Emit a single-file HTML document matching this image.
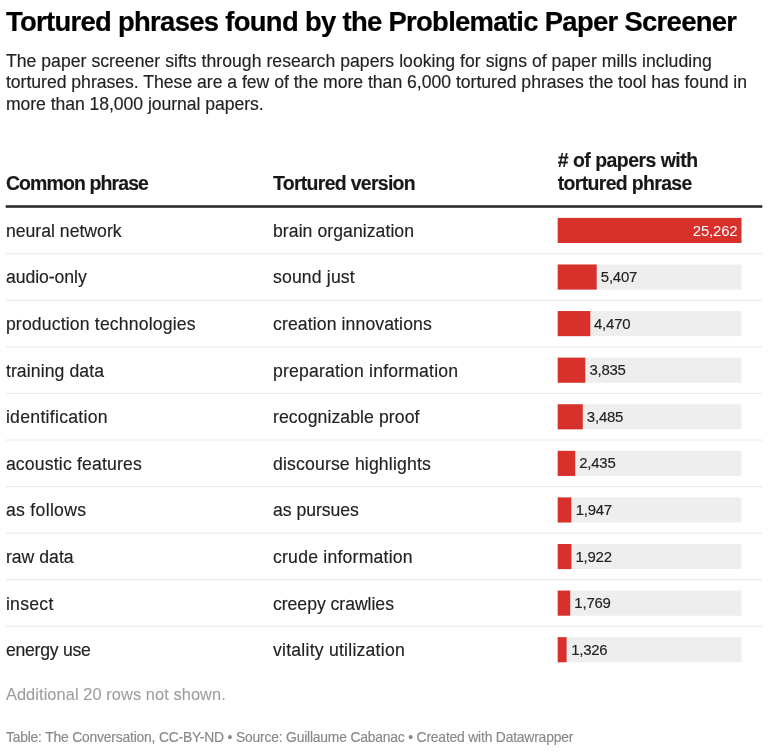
<!DOCTYPE html>
<html lang="en">
<head>
<meta charset="utf-8">
<meta name="viewport" content="width=768">
<title>Tortured phrases found by the Problematic Paper Screener</title>
<style>
html,body{margin:0;padding:0;background:#fff}
body{width:768px;height:752px;position:relative;overflow:hidden;font-family:"Liberation Sans", sans-serif;color:#222222}
#chart{position:absolute;left:0;top:0;width:768px;height:752px;overflow:hidden}
#gfx{position:absolute;left:0;top:0;width:768px;height:752px}
header,footer,table,thead,tbody,tr,p.desc,th.multi{display:block;position:static;margin:0;padding:0;border:0;width:auto;height:0}
.t{position:absolute;display:block;white-space:pre;margin:0;padding:0;border:0;font-weight:400;text-align:left}
.title{font-size:27.42px;line-height:31px;color:#000000;font-weight:700;-webkit-text-stroke:0.2px #000000;}
.desc{font-size:17.62px;line-height:20px;color:#222222;-webkit-text-stroke:0.15px #222222;}
.th{font-size:19.46px;line-height:22px;color:#181818;font-weight:700;-webkit-text-stroke:0.15px #181818;}
.cell{font-size:17.64px;line-height:20px;color:#222222;-webkit-text-stroke:0.15px #222222;}
.val{font-size:14.95px;line-height:17px;color:#222222;-webkit-text-stroke:0.15px #222222;}
.note{font-size:16.38px;line-height:18px;color:#9e9e9e;-webkit-text-stroke:0.1px #9e9e9e;}
.foot{font-size:13.87px;line-height:16px;color:#888888;-webkit-text-stroke:0.15px #888888;}
.in{color:#ffffff;-webkit-text-stroke:0}
</style>
</head>
<body>
<main id="chart">
<svg id="gfx" width="768" height="752" viewBox="0 0 768 752" aria-hidden="true">
<rect x="5.67" y="205.2" width="756.66" height="2.6" fill="#2a2a2a"/>
<g fill="#ececec">
<rect x="5.67" y="253.06" width="756.66" height="1.26"/>
<rect x="5.67" y="299.64" width="756.66" height="1.26"/>
<rect x="5.67" y="346.23" width="756.66" height="1.26"/>
<rect x="5.67" y="392.81" width="756.66" height="1.26"/>
<rect x="5.67" y="439.4" width="756.66" height="1.26"/>
<rect x="5.67" y="485.99" width="756.66" height="1.26"/>
<rect x="5.67" y="532.57" width="756.66" height="1.26"/>
<rect x="5.67" y="579.15" width="756.66" height="1.26"/>
<rect x="5.67" y="625.74" width="756.66" height="1.26"/>
</g>
<g fill="#eeeeee">
<rect x="557.7" y="217.9" width="183.8" height="25.1"/>
<rect x="557.7" y="264.49" width="183.8" height="25.1"/>
<rect x="557.7" y="311.07" width="183.8" height="25.1"/>
<rect x="557.7" y="357.65" width="183.8" height="25.1"/>
<rect x="557.7" y="404.24" width="183.8" height="25.1"/>
<rect x="557.7" y="450.83" width="183.8" height="25.1"/>
<rect x="557.7" y="497.41" width="183.8" height="25.1"/>
<rect x="557.7" y="544" width="183.8" height="25.1"/>
<rect x="557.7" y="590.58" width="183.8" height="25.1"/>
<rect x="557.7" y="637.16" width="183.8" height="25.1"/>
</g>
<g fill="#d8302b">
<rect x="557.7" y="217.9" width="183.8" height="25.1"/>
<rect x="557.7" y="264.49" width="39" height="25.1"/>
<rect x="557.7" y="311.07" width="32.6" height="25.1"/>
<rect x="557.7" y="357.65" width="27.6" height="25.1"/>
<rect x="557.7" y="404.24" width="25.1" height="25.1"/>
<rect x="557.7" y="450.83" width="17.5" height="25.1"/>
<rect x="557.7" y="497.41" width="13.6" height="25.1"/>
<rect x="557.7" y="544" width="13.7" height="25.1"/>
<rect x="557.7" y="590.58" width="12.5" height="25.1"/>
<rect x="557.7" y="637.16" width="8.9" height="25.1"/>
</g>
</svg>
<header>
<h1 class="t title" style="left:5.9px;top:6px;letter-spacing:-0.682px">Tortured phrases found by the Problematic Paper Screener</h1>
<p class="desc"><span class="t desc" style="left:5.9px;top:51px;letter-spacing:0.035px">The paper screener sifts through research papers looking for signs of paper mills including</span><span class="t desc" style="left:5.9px;top:72px;letter-spacing:-0.016px">tortured phrases. These are a few of the more than 6,000 tortured phrases the tool has found in</span><span class="t desc" style="left:5.9px;top:94px;letter-spacing:-0.055px">more than 18,000 journal papers.</span></p>
</header>
<table>
<thead>
<tr>
<th class="t th" style="left:5.9px;top:172px;letter-spacing:-0.864px">Common phrase</th>
<th class="t th" style="left:273px;top:172px;letter-spacing:-0.688px">Tortured version</th>
<th class="multi"><span class="t th" style="left:557.8px;top:149px;letter-spacing:-0.514px"># of papers with</span><span class="t th" style="left:557.8px;top:172px;letter-spacing:-0.656px">tortured phrase</span></th>
</tr>
</thead>
<tbody>
<tr><td class="t cell" style="left:5.9px;top:221px;letter-spacing:0.008px">neural network</td><td class="t cell" style="left:273px;top:221px;letter-spacing:0.054px">brain organization</td><td class="t val in" style="left:692.78px;top:222px;letter-spacing:-0.156px">25,262</td></tr>
<tr><td class="t cell" style="left:5.9px;top:267px;letter-spacing:-0.05px">audio-only</td><td class="t cell" style="left:273px;top:267px;letter-spacing:0.151px">sound just</td><td class="t val" style="left:600.84px;top:268px;letter-spacing:-0.215px">5,407</td></tr>
<tr><td class="t cell" style="left:5.9px;top:314px;letter-spacing:0.157px">production technologies</td><td class="t cell" style="left:273px;top:314px;letter-spacing:0.105px">creation innovations</td><td class="t val" style="left:594.02px;top:315px;letter-spacing:-0.215px">4,470</td></tr>
<tr><td class="t cell" style="left:5.9px;top:361px;letter-spacing:0.096px">training data</td><td class="t cell" style="left:273px;top:361px;letter-spacing:0.17px">preparation information</td><td class="t val" style="left:589.4px;top:361px;letter-spacing:-0.215px">3,835</td></tr>
<tr><td class="t cell" style="left:5.9px;top:407px;letter-spacing:0.292px">identification</td><td class="t cell" style="left:273px;top:407px;letter-spacing:0.088px">recognizable proof</td><td class="t val" style="left:586.86px;top:408px;letter-spacing:-0.215px">3,485</td></tr>
<tr><td class="t cell" style="left:5.9px;top:454px;letter-spacing:0.167px">acoustic features</td><td class="t cell" style="left:273px;top:454px;letter-spacing:0.155px">discourse highlights</td><td class="t val" style="left:579.22px;top:454px;letter-spacing:-0.215px">2,435</td></tr>
<tr><td class="t cell" style="left:5.9px;top:500px;letter-spacing:0.312px">as follows</td><td class="t cell" style="left:273px;top:500px;letter-spacing:-0.035px">as pursues</td><td class="t val" style="left:575.67px;top:501px;letter-spacing:-0.215px">1,947</td></tr>
<tr><td class="t cell" style="left:5.9px;top:547px;letter-spacing:0.016px">raw data</td><td class="t cell" style="left:273px;top:547px;letter-spacing:0.215px">crude information</td><td class="t val" style="left:575.48px;top:548px;letter-spacing:-0.215px">1,922</td></tr>
<tr><td class="t cell" style="left:5.9px;top:594px;letter-spacing:0.284px">insect</td><td class="t cell" style="left:273px;top:594px;letter-spacing:-0.037px">creepy crawlies</td><td class="t val" style="left:574.37px;top:594px;letter-spacing:-0.215px">1,769</td></tr>
<tr><td class="t cell" style="left:5.9px;top:640px;letter-spacing:-0.245px">energy use</td><td class="t cell" style="left:273px;top:640px;letter-spacing:0.231px">vitality utilization</td><td class="t val" style="left:571.15px;top:641px;letter-spacing:-0.215px">1,326</td></tr>
</tbody>
</table>
<footer>
<p class="t note" style="left:5.9px;top:685px;letter-spacing:0.09px">Additional 20 rows not shown.</p>
<p class="t foot" style="left:5.9px;top:729px;letter-spacing:-0.186px">Table: The Conversation, CC-BY-ND • Source: Guillaume Cabanac • Created with Datawrapper</p>
</footer>
</main>
</body>
</html>
